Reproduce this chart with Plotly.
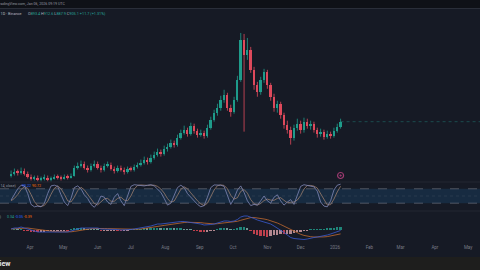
import plotly.graph_objects as go
import pandas as pd

W, H = 480, 270

# ---------------- data ----------------
dates = pd.date_range("2025-03-15", periods=100, freq="3D")
first_open = 2.4
close = [2.6, 2.8, 2.7, 2.9, 2.6, 2.3, 2.1, 2.2, 2.0, 2.1,
         2.2, 2.0, 2.1, 2.3, 2.2, 2.1, 2.3, 2.2, 2.4, 3.2,
         3.4, 3.6, 3.2, 3.0, 3.4, 3.6, 3.2, 3.0, 3.4, 3.5,
         3.1, 2.9, 3.2, 3.0, 2.8, 3.1, 3.0, 3.3, 3.5, 3.7,
         4.0, 3.8, 4.2, 4.5, 4.8, 4.6, 5.1, 5.3, 5.7, 5.5,
         6.2, 6.7, 7.0, 6.6, 7.4, 6.9, 6.5, 6.7, 6.4, 7.2,
         8.0, 8.7, 9.2, 10.0, 10.5, 9.2, 8.8, 10.0, 12.0, 16.0,
         14.5, 15.0, 13.0, 11.5, 10.8, 12.0, 12.8, 11.5, 10.3, 9.2,
         9.6, 8.5, 7.5, 7.0, 6.2, 7.2, 7.6, 7.0, 7.8, 7.4,
         7.6, 7.0, 6.6, 6.8, 6.3, 6.6, 6.4, 6.9, 7.3, 7.8]
high = [2.9, 3.1, 3.0, 3.2, 3.1, 2.8, 2.5, 2.4, 2.4, 2.3,
        2.5, 2.4, 2.3, 2.5, 2.5, 2.4, 2.5, 2.5, 2.6, 3.4,
        3.7, 3.9, 3.8, 3.4, 3.6, 3.9, 3.8, 3.4, 3.6, 3.8,
        3.7, 3.3, 3.4, 3.4, 3.2, 3.3, 3.3, 3.5, 3.7, 4.0,
        4.3, 4.2, 4.5, 4.8, 5.1, 5.0, 5.4, 5.6, 6.0, 5.9,
        6.5, 7.0, 7.4, 7.2, 7.7, 7.6, 7.1, 7.0, 6.9, 7.5,
        8.3, 9.0, 9.6, 10.4, 11.0, 10.7, 9.5, 10.3, 12.4, 16.7,
        16.6, 16.2, 15.3, 13.3, 11.8, 12.3, 13.1, 13.0, 11.7, 10.6,
        9.9, 9.8, 8.7, 7.9, 7.3, 7.5, 8.1, 7.9, 8.2, 8.1,
        7.9, 7.8, 7.2, 7.1, 7.0, 6.9, 6.8, 7.2, 7.6, 8.1]
low = [2.2, 2.4, 2.4, 2.5, 2.4, 2.1, 1.9, 1.9, 1.8, 1.8,
       1.9, 1.8, 1.8, 2.0, 2.0, 1.9, 2.0, 2.0, 2.1, 2.3,
       3.0, 3.2, 3.0, 2.7, 2.8, 3.2, 3.0, 2.7, 2.8, 3.2,
       2.9, 2.6, 2.7, 2.8, 2.5, 2.6, 2.8, 2.8, 3.1, 3.3,
       3.5, 3.5, 3.6, 4.0, 4.3, 4.3, 4.4, 4.8, 5.1, 5.2,
       5.3, 6.0, 6.5, 6.3, 6.4, 6.6, 6.2, 6.3, 6.1, 6.2,
       7.0, 7.8, 8.4, 8.9, 9.7, 8.9, 8.3, 8.6, 9.8, 11.8,
       6.8, 14.0, 12.7, 11.0, 10.3, 10.5, 11.7, 11.1, 9.9, 8.8,
       8.7, 8.1, 7.1, 6.6, 5.5, 5.9, 6.9, 6.6, 6.7, 7.1,
       7.0, 6.7, 6.2, 6.3, 6.0, 6.1, 6.1, 6.2, 6.7, 7.1]
open_ = [first_open] + close[:-1]

stoch_k = [33, 55, 80, 95, 92, 60, 15, 5, 8, 5,
           20, 60, 92, 95, 90, 55, 25, 10, 40, 85,
           92, 80, 55, 40, 15, 3, 20, 50, 45, 25,
           15, 45, 60, 30, 10, 50, 90, 97, 95, 96,
           92, 95, 97, 92, 80, 65, 40, 12, 20, 55,
           85, 95, 85, 60, 45, 30, 15, 5, 10, 45,
           85, 96, 97, 95, 90, 55, 15, 40, 75, 92,
           65, 30, 10, 15, 12, 30, 50, 30, 20, 45,
           55, 30, 12, 25, 35, 15, 50, 90, 97, 95,
           90, 88, 70, 25, 8, 5, 30, 75, 95, 99.22]
stoch_d = [30, 40, 56, 77, 89, 82, 56, 27, 9, 6,
           11, 28, 57, 82, 92, 80, 57, 30, 25, 45,
           72, 86, 76, 58, 37, 19, 13, 24, 38, 40,
           28, 28, 40, 45, 33, 30, 50, 79, 94, 96,
           94, 94, 95, 95, 90, 79, 62, 39, 24, 29,
           53, 78, 88, 80, 63, 45, 30, 17, 10, 20,
           47, 75, 93, 96, 94, 80, 53, 37, 43, 69,
           77, 62, 35, 18, 12, 19, 31, 37, 33, 32,
           40, 43, 32, 22, 24, 25, 33, 52, 79, 94,
           94, 91, 83, 61, 34, 13, 14, 37, 67, 90.72]

macd = [0.1, 0.2, 0.2, 0.3, 0.2, 0.1, 0.0, -0.1, -0.2, -0.2,
        -0.2, -0.2, -0.2, -0.2, -0.2, -0.2, -0.2, -0.2, -0.1, 0.0,
        0.1, 0.2, 0.2, 0.2, 0.2, 0.2, 0.2, 0.1, 0.1, 0.1,
        0.1, 0.1, 0.05, 0.0, 0.0, 0.0, 0.05, 0.1, 0.15, 0.2,
        0.3, 0.3, 0.4, 0.5, 0.6, 0.6, 0.65, 0.7, 0.75, 0.75,
        0.8, 0.85, 0.85, 0.8, 0.8, 0.75, 0.7, 0.6, 0.5, 0.5,
        0.55, 0.6, 0.7, 0.8, 0.9, 0.9, 0.85, 0.9, 1.05, 1.3,
        1.4, 1.4, 1.3, 1.15, 1.0, 0.9, 0.85, 0.75, 0.6, 0.4,
        0.2, 0.0, -0.25, -0.5, -0.75, -0.85, -0.9, -0.95, -0.95, -0.9,
        -0.8, -0.75, -0.7, -0.65, -0.6, -0.5, -0.4, -0.3, -0.2, -0.05]
signal = [0.1, 0.12, 0.15, 0.2, 0.22, 0.2, 0.15, 0.1, 0.03, -0.03,
          -0.08, -0.11, -0.14, -0.16, -0.17, -0.18, -0.19, -0.19, -0.18, -0.14,
          -0.08, 0.0, 0.06, 0.1, 0.13, 0.15, 0.17, 0.16, 0.15, 0.14,
          0.13, 0.12, 0.1, 0.08, 0.06, 0.04, 0.04, 0.05, 0.07, 0.1,
          0.14, 0.18, 0.22, 0.28, 0.35, 0.41, 0.46, 0.52, 0.57, 0.62,
          0.66, 0.71, 0.75, 0.77, 0.78, 0.78, 0.77, 0.74, 0.69, 0.64,
          0.62, 0.61, 0.63, 0.66, 0.71, 0.76, 0.79, 0.82, 0.87, 0.97,
          1.08, 1.18, 1.24, 1.25, 1.22, 1.16, 1.1, 1.03, 0.94, 0.83,
          0.7, 0.55, 0.38, 0.2, 0.01, -0.16, -0.3, -0.43, -0.54, -0.62,
          -0.67, -0.7, -0.71, -0.71, -0.69, -0.66, -0.61, -0.55, -0.48, -0.39]
hist = [0.0, 0.08, 0.05, 0.1, -0.02, -0.1, -0.15, -0.2, -0.23, -0.17,
        -0.12, -0.09, -0.06, -0.04, -0.03, -0.02, -0.01, -0.01, 0.08, 0.14,
        0.18, 0.2, 0.14, 0.1, 0.07, 0.05, 0.03, -0.06, -0.05, -0.04,
        -0.03, -0.02, -0.05, -0.08, -0.06, -0.04, 0.01, 0.05, 0.08, 0.1,
        0.16, 0.12, 0.18, 0.22, 0.25, 0.19, 0.19, 0.18, 0.18, 0.13,
        0.14, 0.14, 0.1, 0.03, 0.02, -0.03, -0.07, -0.14, -0.19, -0.14,
        -0.07, -0.01, 0.07, 0.14, 0.19, 0.14, 0.06, 0.08, 0.18, 0.33,
        0.35, 0.15, -0.1, -0.35, -0.5, -0.55, -0.6, -0.65, -0.55, -0.5,
        -0.45, -0.4, -0.42, -0.4, -0.36, -0.3, -0.22, -0.18, -0.1, -0.05,
        0.03, 0.06, 0.08, 0.1, 0.1, 0.14, 0.18, 0.24, 0.28, 0.34]

tick_dates = ["2025-04-01", "2025-05-01", "2025-06-01", "2025-07-01", "2025-08-01",
              "2025-09-01", "2025-10-01", "2025-11-01", "2025-12-01", "2026-01-01",
              "2026-02-01", "2026-03-01", "2026-04-01", "2026-05-01"]
tick_labels = ["Apr", "May", "Jun", "Jul", "Aug", "Sep", "Oct", "Nov", "Dec", "2026",
               "Feb", "Mar", "Apr", "May"]

last_price = close[-1]
marker_level = 2.4

# ---------------- style ----------------
BG = "#161a25"
UP, DOWN = "#1f9c8b", "#de4a5c"
GREY = "#787b86"
FONT = "Roboto"
DAY_MS = 86400000


def py(px):
    return 1 - px / H


def px_x(px):
    return px / W


# candle bodies / wicks built from the OHLC lists
is_up = [c >= o for o, c in zip(open_, close)]
body_base = [min(o, c) for o, c in zip(open_, close)]
body_len = [max(abs(c - o), 0.04) for o, c in zip(open_, close)]
body_col = [UP if u else DOWN for u in is_up]


def wick_xy(flag):
    xs, ys = [], []
    for d, h_, l_, u in zip(dates, high, low, is_up):
        if u == flag:
            xs += [d, d, None]
            ys += [l_, h_, None]
    return xs, ys


hist_colors = []
prev = 0.0
for h in hist:
    if h >= 0:
        hist_colors.append("#22a08f" if h >= prev else "#7fb8b0")
    else:
        hist_colors.append("#d9a3aa" if h > prev else "#e84a57")
    prev = h

fig = go.Figure()
for flag, col in ((True, UP), (False, DOWN)):
    wx, wy = wick_xy(flag)
    fig.add_trace(go.Scatter(x=wx, y=wy, mode="lines", line=dict(color=col, width=0.8),
                             xaxis="x", yaxis="y", showlegend=False, hoverinfo="skip"))
fig.add_trace(go.Bar(x=dates, y=body_len, base=body_base, width=3 * DAY_MS * 0.55,
                     marker=dict(color=body_col, line=dict(width=0)),
                     xaxis="x", yaxis="y", showlegend=False, hoverinfo="skip"))

fig.add_trace(go.Scatter(x=[dates[-1], "2026-05-12"], y=[last_price, last_price], mode="lines",
                         line=dict(color="rgba(38,166,154,0.35)", width=1, dash="dot"),
                         xaxis="x", yaxis="y", showlegend=False, hoverinfo="skip"))
fig.add_trace(go.Scatter(x=[dates[-1]], y=[marker_level], mode="markers",
                         marker=dict(symbol="circle-open-dot", size=6, color="#9c3a70",
                                     line=dict(width=1.2, color="#9c3a70")),
                         xaxis="x", yaxis="y", showlegend=False, hoverinfo="skip"))

fig.add_trace(go.Scatter(x=dates, y=stoch_d, mode="lines", line=dict(color="#9a7c6c", width=0.8),
                         xaxis="x2", yaxis="y2", showlegend=False, hoverinfo="skip"))
fig.add_trace(go.Scatter(x=dates, y=stoch_k, mode="lines", line=dict(color="#8088b8", width=0.8),
                         xaxis="x2", yaxis="y2", showlegend=False, hoverinfo="skip"))

fig.add_trace(go.Bar(x=dates, y=hist, marker=dict(color=hist_colors, line=dict(width=0)),
                     opacity=0.8, width=3 * DAY_MS * 0.55, xaxis="x3", yaxis="y3",
                     showlegend=False, hoverinfo="skip"))
fig.add_trace(go.Scatter(x=dates, y=signal, mode="lines", line=dict(color="#c06a30", width=0.8),
                         xaxis="x3", yaxis="y3", showlegend=False, hoverinfo="skip"))
fig.add_trace(go.Scatter(x=dates, y=macd, mode="lines", line=dict(color="#3a5bd0", width=0.8),
                         xaxis="x3", yaxis="y3", showlegend=False, hoverinfo="skip"))

xr = ["2025-03-05", "2026-05-11 16:00"]
hidden = dict(visible=False, showgrid=False, zeroline=False)

shapes = [
    dict(type="rect", xref="paper", yref="paper", x0=0, x1=1, y0=py(8), y1=1,
         fillcolor="#0f1117", line=dict(width=0), layer="below"),
    dict(type="line", xref="paper", yref="paper", x0=0, x1=1, y0=py(8.5), y1=py(8.5),
         line=dict(color="#2a2e39", width=1)),
    dict(type="rect", xref="paper", yref="paper", x0=0, x1=1, y0=0, y1=py(257),
         fillcolor="#1e1e1d", line=dict(width=0), layer="below"),
    dict(type="line", xref="paper", yref="paper", x0=0, x1=1, y0=py(182), y1=py(182),
         line=dict(color="#232733", width=1)),
    dict(type="line", xref="paper", yref="paper", x0=0, x1=1, y0=py(211), y1=py(211),
         line=dict(color="#232733", width=1)),
    dict(type="rect", xref="paper", yref="y2", x0=0, x1=1, y0=20, y1=80,
         fillcolor="rgba(33,150,243,0.14)", line=dict(width=0), layer="below"),
    dict(type="line", xref="paper", yref="y2", x0=0, x1=1, y0=80, y1=80,
         line=dict(color=GREY, width=0.6, dash="dash")),
    dict(type="line", xref="paper", yref="y2", x0=0, x1=1, y0=20, y1=20,
         line=dict(color=GREY, width=0.6, dash="dash")),
    dict(type="line", xref="paper", yref="y2", x0=0, x1=1, y0=50, y1=50,
         line=dict(color="rgba(120,123,134,0.3)", width=0.6, dash="dot")),
]

tiny = dict(family=FONT, size=3.6, color="#9598a1")
annotations = [
    dict(text="Published on TradingView.com, Jan 06, 2026 09:19 UTC", xref="paper", yref="paper",
         x=px_x(67), y=py(4), xanchor="right", yanchor="middle", showarrow=False, font=tiny),
    dict(text="BNBUSD · 1D · Binance", xref="paper", yref="paper",
         x=px_x(24), y=py(13), xanchor="right", yanchor="middle", showarrow=False,
         font=dict(family=FONT, size=3.8, color="#b2b5be")),
    dict(text=("O<span style='color:#26a69a'>893.4</span> H<span style='color:#26a69a'>912.6</span> "
               "L<span style='color:#26a69a'>887.9</span> C<span style='color:#26a69a'>905.1</span> "
               "<span style='color:#26a69a'>+11.7 (+1.31%)</span>"),
         xref="paper", yref="paper", x=px_x(26), y=py(13), xanchor="left", yanchor="middle",
         showarrow=False, font=dict(family=FONT, size=3.8, color="#b2b5be")),
    dict(text="Stoch RSI (3, 3, 14, 14, close)", xref="paper", yref="paper",
         x=px_x(18), y=py(185.5), xanchor="right", yanchor="middle", showarrow=False, font=tiny),
    dict(text=("<span style='color:#2962ff'>99.22</span> "
               "<span style='color:#ff6d00'>90.72</span>"),
         xref="paper", yref="paper", x=px_x(20), y=py(185.5), xanchor="left", yanchor="middle",
         showarrow=False, font=tiny),
    dict(text="MACD (12, 26, close, 9)", xref="paper", yref="paper",
         x=px_x(3), y=py(217), xanchor="right", yanchor="middle", showarrow=False, font=tiny),
    dict(text=("<span style='color:#26a69a'>0.34</span> <span style='color:#2962ff'>-0.05</span> "
               "<span style='color:#ff6d00'>-0.39</span>"),
         xref="paper", yref="paper", x=px_x(5), y=py(217), xanchor="left", yanchor="middle",
         showarrow=False, font=tiny),
    dict(text="<b>TradingView</b>", xref="paper", yref="paper",
         x=px_x(12.5), y=py(264), xanchor="right", yanchor="middle", showarrow=False,
         font=dict(family=FONT, size=7, color="#e8e8e8")),
]

fig.update_layout(
    width=W, height=H, autosize=False,
    margin=dict(l=0, r=0, t=0, b=0, pad=0),
    paper_bgcolor=BG, plot_bgcolor="rgba(0,0,0,0)",
    font=dict(family=FONT, color=GREY),
    bargap=0, barmode="overlay",
    xaxis=dict(domain=[0, 1], anchor="y", range=xr,
               showticklabels=False, showgrid=False, zeroline=False, showline=False, ticks=""),
    xaxis2=dict(domain=[0, 1], anchor="y2", matches="x", range=xr, showticklabels=False,
                showgrid=False, zeroline=False, showline=False, ticks=""),
    xaxis3=dict(domain=[0, 1], anchor="y3", matches="x", range=xr, tickmode="array",
                tickvals=tick_dates, ticktext=tick_labels, showgrid=False, zeroline=False,
                showline=False, ticks="", tickfont=dict(family=FONT, size=4.5, color=GREY)),
    yaxis=dict(domain=[py(182), py(15)], range=[1.75, 18.5], **hidden),
    yaxis2=dict(domain=[py(211), py(182)], range=[-12.5, 108.3], **hidden),
    yaxis3=dict(domain=[py(243), py(211)], range=[-1.3, 1.9], **hidden),
    shapes=shapes, annotations=annotations,
)

fig.write_html("out.html")
